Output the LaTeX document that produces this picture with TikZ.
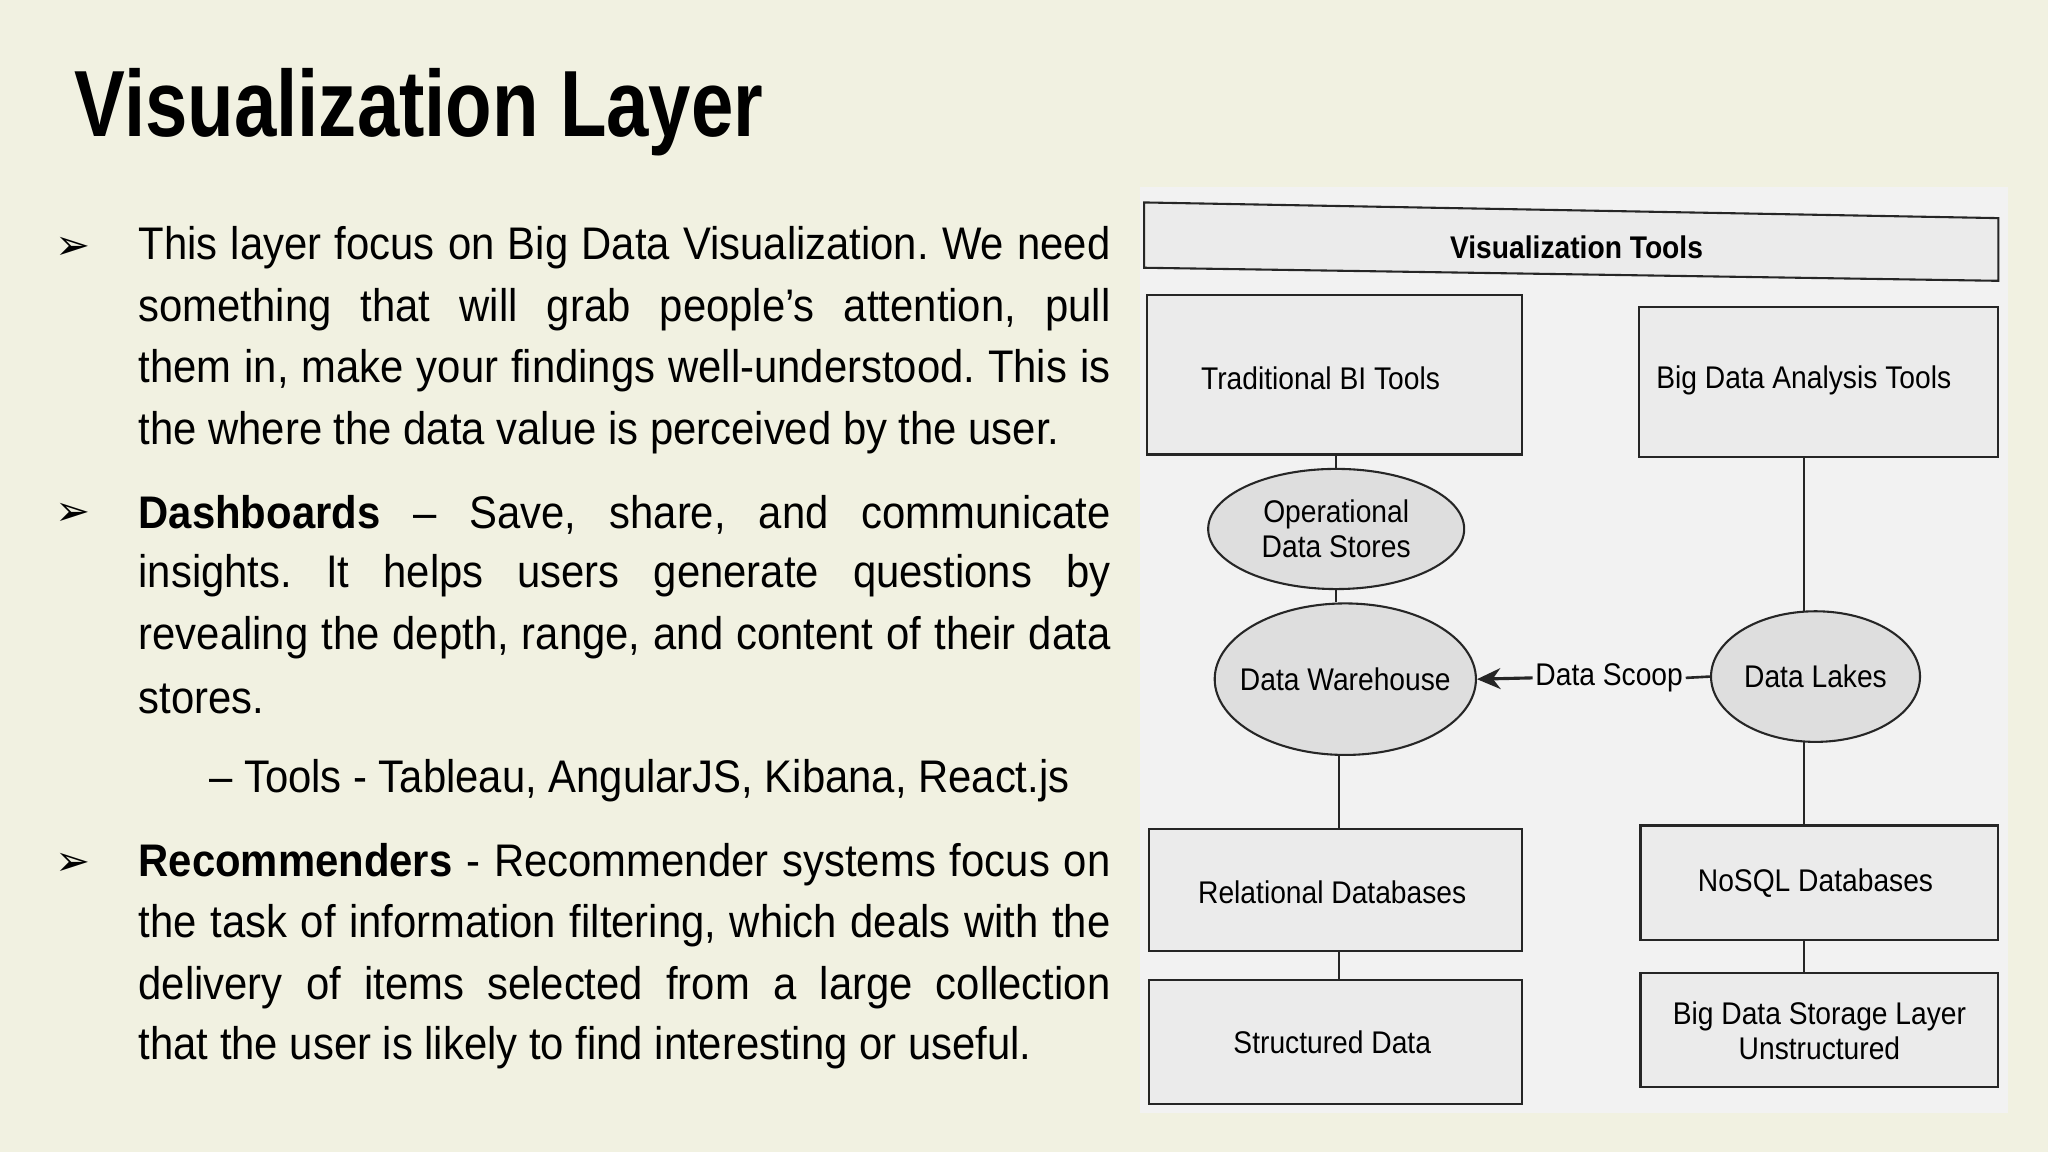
\documentclass[tikz,border=0pt]{standalone}
\usepackage{fontspec}
\setmainfont{Liberation Sans}
\newfontfamily\bodyf[FakeStretch=0.915]{Liberation Sans}
\newfontfamily\titlef[FakeStretch=0.81]{Liberation Sans}
\newfontfamily\diagf[FakeStretch=0.9]{Liberation Sans}
\newfontfamily\symf{DejaVu Sans}
\usetikzlibrary{arrows.meta,shapes.geometric}
\definecolor{bg}{HTML}{F1F1E1}
\definecolor{panel}{HTML}{F2F2F2}
\definecolor{boxf}{HTML}{EBEBEB}
\definecolor{ellf}{HTML}{DEDEDE}
\tikzset{
 ln/.style={anchor=west,inner sep=0pt,font=\bodyf\frenchspacing\fontsize{35}{40}\selectfont},
 bul/.style={anchor=west,inner sep=0pt,font=\symf\fontsize{32}{36}\selectfont},
 bx/.style={draw=black!85,line width=1.6pt,fill=boxf},
 el/.style={draw=black!85,line width=1.6pt,fill=ellf,ellipse},
 dl/.style={font=\diagf\fontsize{24}{27}\selectfont,align=center,inner sep=0pt},
 cn/.style={draw=black!85,line width=1.3pt}
}
\newcommand{\jl}[1]{\makebox[744pt][s]{#1}}
\begin{document}
\begin{tikzpicture}[x=1pt,y=-1pt]
\fill[bg] (0,0) rectangle (1568,882);
\useasboundingbox (0,0) rectangle (1568,882);
\node[anchor=west,inner sep=0pt,font=\titlef\bfseries\fontsize{72}{80}\selectfont] (title) at (57,86) {Visualization Layer};
\node[bul] (b1) at (42,190) {➢};
\node[bul] (b2) at (42,394) {➢};
\node[bul] (b3) at (42,662) {➢};
\node[ln] (l1) at (106,190) {\jl{This layer focus on Big Data Visualization. We need}};
\node[ln] (l2) at (106,237) {\jl{something that will grab people’s attention, pull}};
\node[ln] (l3) at (106,284) {\jl{them in, make your findings well-understood. This is}};
\node[ln] (l4) at (106,331) {the where the data value is perceived by the user.};
\node[ln] (l5) at (106,394) {\jl{\textbf{Dashboards} – Save, share, and communicate}};
\node[ln] (l6) at (106,441) {\jl{insights. It helps users generate questions by}};
\node[ln] (l7) at (106,488) {\jl{revealing the depth, range, and content of their data}};
\node[ln] (l8) at (106,535) {stores.};
\node[ln] (l9) at (160,598) {– Tools - Tableau, AngularJS, Kibana, React.js};
\node[ln] (l10) at (106,662) {\jl{\textbf{Recommenders} - Recommender systems focus on}};
\node[ln] (l11) at (106,709) {\jl{the task of information filtering, which deals with the}};
\node[ln] (l12) at (106,756) {\jl{delivery of items selected from a large collection}};
\node[ln] (l13) at (106,802) {that the user is likely to find interesting or useful.};
% diagram panel
\fill[panel] (873,143) rectangle (1537,852);
\draw[bx] (876,155) -- (1530,167) -- (1530,215) -- (876,205) -- cycle;
\node[dl,font=\diagf\bfseries\fontsize{24}{27}\selectfont] (vt) at (1207,189) {Visualization Tools};
\draw[bx] (878,226) rectangle (1165,348);
\node[dl] (bi) at (1011,290) {Traditional BI Tools};
\draw[bx] (1255,235) rectangle (1530,350);
\node[dl] (bda) at (1381,291) {Big Data Analysis Tools};
\node[el,minimum width=196pt,minimum height=92pt] (ods) at (1023,405) {};
\node[dl] at (ods) {Operational\\Data Stores};
\node[el,minimum width=200pt,minimum height=116pt] (dw) at (1030,520) {};
\node[dl] at (dw) {Data Warehouse};
\node[el,minimum width=160pt,minimum height=100pt] (dlk) at (1390,518) {};
\node[dl] at (dlk) {Data Lakes};
\draw[bx] (880,635) rectangle (1165,728);
\node[dl] (rel) at (1020,683) {Relational Databases};
\draw[bx] (1256,632) rectangle (1530,720);
\node[dl] (nos) at (1390,676) {NoSQL Databases};
\draw[bx] (880,750) rectangle (1165,845);
\node[dl] (sd) at (1020,798) {Structured Data};
\draw[bx] (1256,745) rectangle (1530,832);
\node[dl] (bds) at (1393,789) {Big Data Storage Layer\\Unstructured};
\node[dl,fill=panel,inner sep=2pt] (scoop) at (1232,519) {Data Scoop};
\coordinate (biB) at (1023,348);
\coordinate (bdaB) at (1381,350);
\coordinate (relT) at (1025,635);
\coordinate (relB) at (1025,728);
\coordinate (sdT) at (1025,750);
\coordinate (nosT) at (1381,632);
\coordinate (nosB) at (1381,720);
\coordinate (bdsT) at (1381,745);
\draw[cn] (biB) -- (ods.north);
\draw[cn] (ods.south) -- (dw.north -| ods.south);
\draw[cn] (1025,578) -- (relT);
\draw[cn] (relB) -- (sdT);
\draw[cn] (bdaB) -- (1381,468);
\draw[cn] (1381,568) -- (nosT);
\draw[cn] (nosB) -- (bdsT);
\draw[cn,line width=2pt] (dlk.west) -- (scoop.east);
\draw[cn,line width=2.4pt,-{Stealth[length=18pt,width=16pt]}] (scoop.west) -- (dw.east);
\end{tikzpicture}
\end{document}
